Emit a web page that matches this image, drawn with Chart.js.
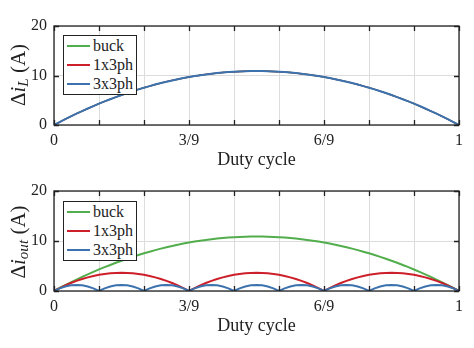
<!DOCTYPE html>
<html>
<head>
<meta charset="utf-8">
<script src="https://cdn.jsdelivr.net/npm/chart.js@4.4.0/dist/chart.umd.min.js"></script>
<style>
  body { margin: 0; background: #fff; }
  #wrap { position: relative; width: 474px; height: 348px; font-family: "Liberation Serif", "Times New Roman", "DejaVu Serif", serif; color: #222; }
  .panel { position: absolute; left: 0; width: 474px; height: 174px; }
  .ylab { position: absolute; font-size: 21px; white-space: nowrap; transform: translate(-50%, -50%) rotate(-90deg); }
  .ylab sub { font-size: 0.72em; vertical-align: -0.25em; }
  .legend { position: absolute; background: #fff; border: 1px solid #222; font-size: 16px; padding: 0 3px 1px 3px; }
  .legend div { height: 19px; line-height: 19px; white-space: nowrap; }
  .legend span.ln { display: inline-block; width: 23px; height: 2px; vertical-align: middle; margin-right: 3px; position: relative; top: -1px; }
</style>
</head>
<body>
<div id="wrap">
  <div class="panel" style="top:0"><canvas id="chartTop" width="474" height="174"></canvas></div>
  <div class="panel" style="top:174px"><canvas id="chartBot" width="474" height="174"></canvas></div>
  <div class="ylab" style="left:19px;top:75px">&Delta;<i>i</i><sub><i>L</i></sub> (A)</div>
  <div class="ylab" style="left:19px;top:242px">&Delta;<i>i</i><sub><i>out</i></sub> (A)</div>
  <div class="legend" id="legTop" style="left:63px;top:35px"></div>
  <div class="legend" id="legBot" style="left:63px;top:201px"></div>
</div>
<script>
// series names and colours
const seriesNames = ['buck', '1x3ph', '3x3ph'];
const seriesColors = ['#52ad4c', '#cc1f2a', '#3c72ad'];

// x axis: grid every 1/9, labels only on every third line
const xTickValues = [0, 1/9, 2/9, 3/9, 4/9, 5/9, 6/9, 7/9, 8/9, 1];
const xTickLabels = ['0', '', '', '3/9', '', '', '6/9', '', '', '1'];
const yTickValues = [0, 10, 20];

// duty cycle samples, step 1/72
const duty = Array.from({ length: 73 }, (_, i) => i / 72);

// inductor current ripple (same for all three configurations)
const iL = [0, 0.60, 1.18, 1.74, 2.29, 2.82, 3.33, 3.83, 4.31, 4.77, 5.21, 5.64, 6.06, 6.45, 6.83, 7.19, 7.54, 7.86, 8.18,
  8.47, 8.75, 9.01, 9.25, 9.48, 9.69, 9.88, 10.06, 10.22, 10.36, 10.49, 10.60, 10.69, 10.77, 10.82, 10.87, 10.89, 10.90,
  10.89, 10.87, 10.82, 10.77, 10.69, 10.60, 10.49, 10.36, 10.22, 10.06, 9.88, 9.69, 9.48, 9.25, 9.01, 8.75, 8.47,
  8.18, 7.86, 7.54, 7.19, 6.83, 6.45, 6.06, 5.64, 5.21, 4.77, 4.31, 3.83, 3.33, 2.82, 2.29, 1.74, 1.18, 0.60, 0];

// output current ripple
const outBuck = iL;
const out1x3 = [0, 0.58, 1.11, 1.59, 2.02, 2.39, 2.72, 3.00, 3.23, 3.40, 3.53, 3.60, 3.63, 3.60, 3.53, 3.40, 3.23, 3.00, 2.72, 2.39, 2.02, 1.59, 1.11, 0.58,
  0, 0.58, 1.11, 1.59, 2.02, 2.39, 2.72, 3.00, 3.23, 3.40, 3.53, 3.60, 3.63, 3.60, 3.53, 3.40, 3.23, 3.00, 2.72, 2.39, 2.02, 1.59, 1.11, 0.58,
  0, 0.58, 1.11, 1.59, 2.02, 2.39, 2.72, 3.00, 3.23, 3.40, 3.53, 3.60, 3.63, 3.60, 3.53, 3.40, 3.23, 3.00, 2.72, 2.39, 2.02, 1.59, 1.11, 0.58, 0];
const out3x3 = [0, 0.53, 0.91, 1.13, 1.21, 1.13, 0.91, 0.53,
  0, 0.53, 0.91, 1.13, 1.21, 1.13, 0.91, 0.53,
  0, 0.53, 0.91, 1.13, 1.21, 1.13, 0.91, 0.53,
  0, 0.53, 0.91, 1.13, 1.21, 1.13, 0.91, 0.53,
  0, 0.53, 0.91, 1.13, 1.21, 1.13, 0.91, 0.53,
  0, 0.53, 0.91, 1.13, 1.21, 1.13, 0.91, 0.53,
  0, 0.53, 0.91, 1.13, 1.21, 1.13, 0.91, 0.53,
  0, 0.53, 0.91, 1.13, 1.21, 1.13, 0.91, 0.53,
  0, 0.53, 0.91, 1.13, 1.21, 1.13, 0.91, 0.53, 0];

const fontFam = '"Liberation Serif", "Times New Roman", "DejaVu Serif", serif';
const ink = '#222';

function toPoints(ys) {
  return duty.map((d, i) => ({ x: d, y: ys[i] }));
}

// datasets listed last-to-first so that 3x3ph is drawn on top
function getDatasets(series, underWidth) {
  return [2, 1, 0].map(k => ({
    label: seriesNames[k],
    data: toPoints(series[k]),
    borderColor: seriesColors[k],
    borderWidth: k === 2 ? 2 : underWidth,
    pointRadius: 0,
    tension: 0,
    fill: false
  }));
}

// matlab style box with inward ticks
const boxPlugin = {
  id: 'box',
  afterDraw(chart) {
    const { ctx, chartArea: a, scales } = chart;
    ctx.save();
    ctx.strokeStyle = ink;
    ctx.lineWidth = 1.3;
    ctx.beginPath();
    for (const v of xTickValues) {
      const px = Math.round(scales.x.getPixelForValue(v)) + 0.5;
      ctx.moveTo(px, a.top); ctx.lineTo(px, a.top + 5);
      ctx.moveTo(px, a.bottom); ctx.lineTo(px, a.bottom - 5);
    }
    for (const v of yTickValues) {
      const py = Math.round(scales.y.getPixelForValue(v)) + 0.5;
      ctx.moveTo(a.left, py); ctx.lineTo(a.left + 5, py);
      ctx.moveTo(a.right, py); ctx.lineTo(a.right - 5, py);
    }
    ctx.stroke();
    ctx.strokeRect(a.left, a.top, a.right - a.left, a.bottom - a.top);
    ctx.restore();
  }
};

function getChart(id, series, underWidth, areaTop, areaBottom) {
  return new Chart(document.getElementById(id), {
    type: 'line',
    data: { datasets: getDatasets(series, underWidth) },
    options: {
      responsive: false,
      animation: false,
      layout: { padding: { top: areaTop, right: 15, left: 0, bottom: 0 } },
      plugins: { legend: { display: false }, tooltip: { enabled: false } },
      scales: {
        x: {
          type: 'linear', min: 0, max: 1,
          afterBuildTicks: s => { s.ticks = xTickValues.map(v => ({ value: v })); },
          ticks: {
            autoSkip: false, maxRotation: 0, padding: 6, color: ink,
            font: { family: fontFam, size: 16 },
            callback: (v, i) => xTickLabels[i]
          },
          grid: { color: '#dcdcdc', lineWidth: 1, drawTicks: false },
          border: { display: false },
          title: {
            display: true, text: 'Duty cycle', color: ink,
            font: { family: fontFam, size: 18 },
            padding: { top: 0, bottom: 174 - (areaBottom + 35) - 10.8 }
          },
          afterFit: s => { s.height = 174 - areaBottom; s.paddingLeft = 0; s.paddingRight = 0; }
        },
        y: {
          min: 0, max: 20,
          afterBuildTicks: s => { s.ticks = yTickValues.map(v => ({ value: v })); },
          ticks: { padding: 7, color: ink, font: { family: fontFam, size: 16 } },
          grid: { color: '#dcdcdc', lineWidth: 1, drawTicks: false },
          border: { display: false },
          afterFit: s => { s.width = 54; s.paddingTop = 0; s.paddingBottom = 0; }
        }
      }
    },
    plugins: [boxPlugin]
  });
}

function buildLegend(id) {
  const el = document.getElementById(id);
  seriesNames.forEach((name, k) => {
    const row = document.createElement('div');
    const ln = document.createElement('span');
    ln.className = 'ln';
    ln.style.background = seriesColors[k];
    row.appendChild(ln);
    row.appendChild(document.createTextNode(name));
    el.appendChild(row);
  });
}

chartTop = getChart('chartTop', [iL, iL, iL], 1.4, 26, 125);
chartBot = getChart('chartBot', [outBuck, out1x3, out3x3], 2, 17, 117);
buildLegend('legTop');
buildLegend('legBot');
</script>
</body>
</html>
